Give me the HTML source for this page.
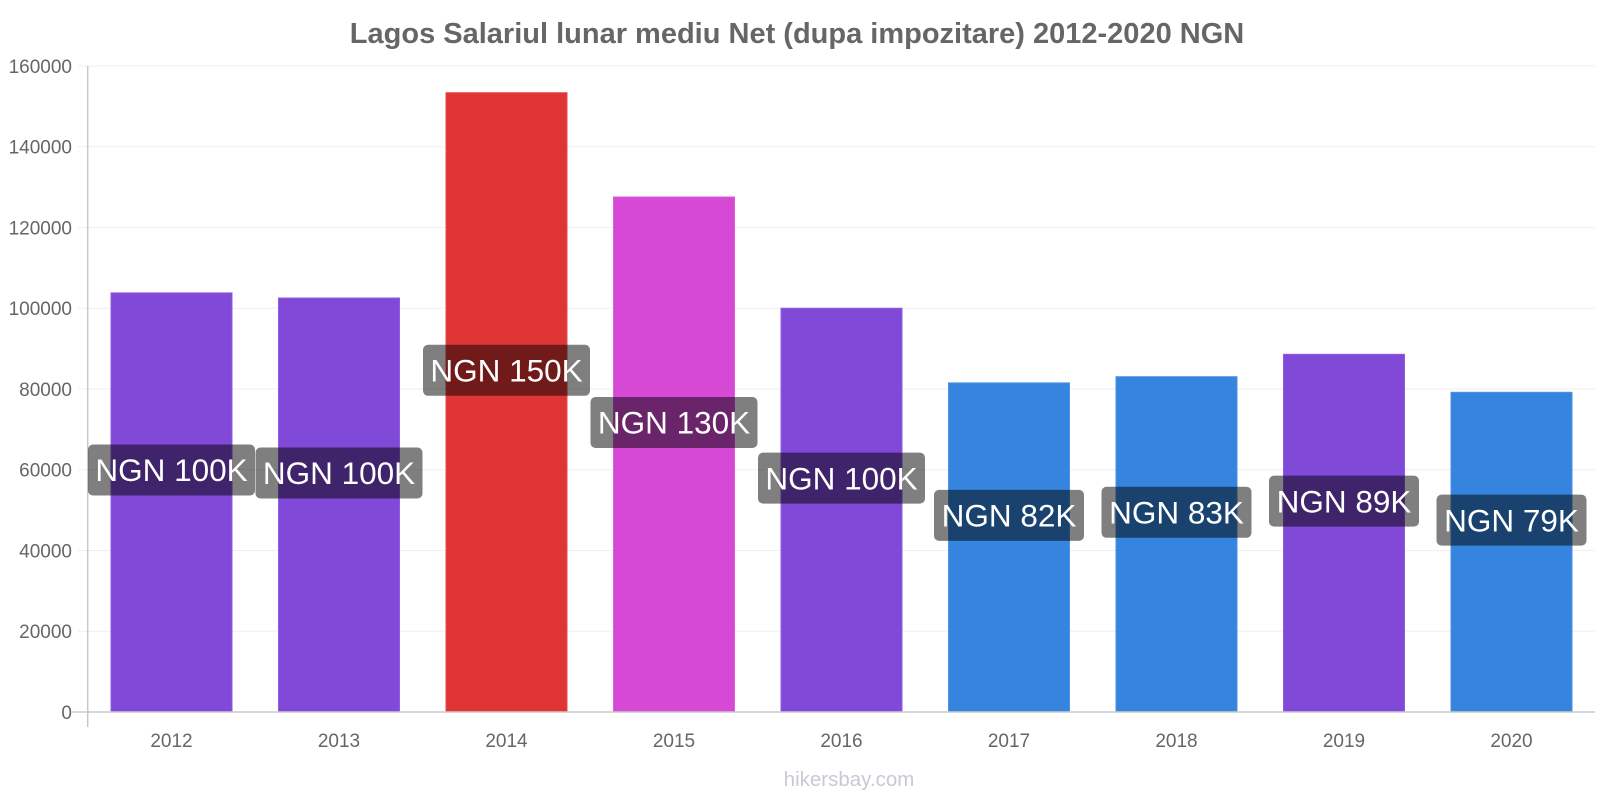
<!DOCTYPE html>
<html>
<head>
<meta charset="utf-8">
<style>
  html, body { margin: 0; padding: 0; background: #ffffff; }
  svg { display: block; font-family: "Liberation Sans", Arial, sans-serif; }
</style>
</head>
<body>
<svg width="1600" height="800" viewBox="0 0 1600 800" xmlns="http://www.w3.org/2000/svg">
  <rect x="0" y="0" width="1600" height="800" fill="#ffffff"/>

  <!-- Title -->
  <text x="797" y="43" text-anchor="middle" font-size="29" font-weight="bold" fill="#666666">Lagos Salariul lunar mediu Net (dupa impozitare) 2012-2020 NGN</text>

  <!-- Gridlines -->
  <g stroke="#efefef" stroke-width="1">
    <line x1="78" y1="66" x2="1595" y2="66"/>
    <line x1="78" y1="146.75" x2="1595" y2="146.75"/>
    <line x1="78" y1="227.5" x2="1595" y2="227.5"/>
    <line x1="78" y1="308.25" x2="1595" y2="308.25"/>
    <line x1="78" y1="389" x2="1595" y2="389"/>
    <line x1="78" y1="469.75" x2="1595" y2="469.75"/>
    <line x1="78" y1="550.5" x2="1595" y2="550.5"/>
    <line x1="78" y1="631.25" x2="1595" y2="631.25"/>
  </g>

  <!-- Y tick labels -->
  <g font-size="19" fill="#666666" text-anchor="end">
    <text x="72" y="72.8">160000</text>
    <text x="72" y="153.55">140000</text>
    <text x="72" y="234.3">120000</text>
    <text x="72" y="315.05">100000</text>
    <text x="72" y="395.8">80000</text>
    <text x="72" y="476.55">60000</text>
    <text x="72" y="557.3">40000</text>
    <text x="72" y="638.05">20000</text>
    <text x="72" y="718.8">0</text>
  </g>

  <!-- Bars -->
  <g stroke-width="1">
    <rect x="111" y="292.9" width="121" height="419.1" fill="#8049d7" stroke="#8f5ce0"/>
    <rect x="278.5" y="298" width="121" height="414" fill="#8049d7" stroke="#8f5ce0"/>
    <rect x="446" y="92.7" width="121" height="619.3" fill="#e03535" stroke="#e54a4a"/>
    <rect x="613.5" y="197" width="121" height="515" fill="#d549d4" stroke="#dc5cdb"/>
    <rect x="781" y="308.25" width="121" height="403.75" fill="#8049d7" stroke="#8f5ce0"/>
    <rect x="948.5" y="382.9" width="121" height="329.1" fill="#3584de" stroke="#4a92e2"/>
    <rect x="1116" y="376.7" width="121" height="335.3" fill="#3584de" stroke="#4a92e2"/>
    <rect x="1283.5" y="354.3" width="121" height="357.7" fill="#8049d7" stroke="#8f5ce0"/>
    <rect x="1451" y="392.3" width="121" height="319.7" fill="#3584de" stroke="#4a92e2"/>
  </g>

  <!-- Axes -->
  <line x1="88" y1="712" x2="1595" y2="712" stroke="#cccccc" stroke-width="1.5"/>
  <line x1="72" y1="712" x2="88" y2="712" stroke="#cccccc" stroke-width="1.5"/>
  <line x1="87.7" y1="66" x2="87.7" y2="727" stroke="#c8c8cc" stroke-width="1.5"/>

  <!-- X labels -->
  <g font-size="19" fill="#666666" text-anchor="middle">
    <text x="171.5" y="747">2012</text>
    <text x="339" y="747">2013</text>
    <text x="506.5" y="747">2014</text>
    <text x="674" y="747">2015</text>
    <text x="841.5" y="747">2016</text>
    <text x="1009" y="747">2017</text>
    <text x="1176.5" y="747">2018</text>
    <text x="1344" y="747">2019</text>
    <text x="1511.5" y="747">2020</text>
  </g>

  <!-- Value labels -->
  <g fill="rgba(0,0,0,0.5)">
    <rect x="88" y="444.5" width="167" height="51" rx="5"/>
    <rect x="255.5" y="447.5" width="167" height="51" rx="5"/>
    <rect x="423" y="344.8" width="167" height="51" rx="5"/>
    <rect x="590.5" y="397" width="167" height="51" rx="5"/>
    <rect x="758" y="452.6" width="167" height="51" rx="5"/>
    <rect x="934" y="489.9" width="150" height="51" rx="5"/>
    <rect x="1101.5" y="486.8" width="150" height="51" rx="5"/>
    <rect x="1269" y="475.6" width="150" height="51" rx="5"/>
    <rect x="1436.5" y="494.6" width="150" height="51" rx="5"/>
  </g>
  <g font-size="31.5" fill="#ffffff" text-anchor="middle">
    <text x="171.5" y="481.2">NGN 100K</text>
    <text x="339" y="484.2">NGN 100K</text>
    <text x="506.5" y="381.5">NGN 150K</text>
    <text x="674" y="433.7">NGN 130K</text>
    <text x="841.5" y="489.3">NGN 100K</text>
    <text x="1009" y="526.6">NGN 82K</text>
    <text x="1176.5" y="523.5">NGN 83K</text>
    <text x="1344" y="512.3">NGN 89K</text>
    <text x="1511.5" y="531.3">NGN 79K</text>
  </g>

  <!-- Watermark -->
  <text x="849" y="786" text-anchor="middle" font-size="20.5" fill="#c9c9d6">hikersbay.com</text>
</svg>
</body>
</html>
